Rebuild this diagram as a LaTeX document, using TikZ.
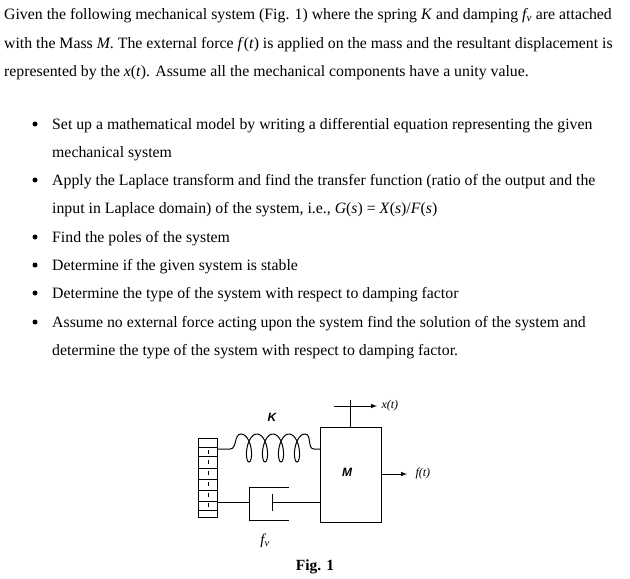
\documentclass[tikz,border=0pt]{standalone}
\usepackage{fontspec}
\setmainfont{Liberation Serif}
\newfontfamily\hel{Liberation Sans}
\begin{document}
\begin{tikzpicture}[x=1pt,y=-1pt,
  tx/.style={anchor=base west,inner sep=0pt,font=\fontsize{15.8}{18}\selectfont},
  bul/.style={circle,fill=black,inner sep=0pt,minimum size=5pt},
  ln/.style={line width=1pt}]
\useasboundingbox (0,0) rectangle (630,579);
\node[tx] (l1) at (4,19) {Given the following mechanical system (Fig. 1) where the spring \textit{K} and damping \textit{f\textsubscript{v}} are attached};
\node[tx] (l2) at (4,48) {with the Mass \textit{M}. The external force \textit{f}(\textit{t}) is applied on the mass and the resultant displacement is};
\node[tx] (l3) at (4,76) {represented by the \textit{x}(\textit{t}). Assume all the mechanical components have a unity value.};
\foreach \y/\n in {124/b1,180/b2,237/b3,265/b4,293/b5,322/b6}{\node[bul] (\n) at (35,\y) {};}
\node[tx] (t1) at (52,129) {Set up a mathematical model by writing a differential equation representing the given};
\node[tx] (t1b) at (52,157) {mechanical system};
\node[tx] (t2) at (52,185) {Apply the Laplace transform and find the transfer function (ratio of the output and the};
\node[tx] (t2b) at (52,213) {input in Laplace domain) of the system, i.e., \textit{G}(\textit{s}) = \textit{X}(\textit{s})/\textit{F}(\textit{s})};
\node[tx] (t3) at (52,242) {Find the poles of the system};
\node[tx] (t4) at (52,270) {Determine if the given system is stable};
\node[tx] (t5) at (52,298) {Determine the type of the system with respect to damping factor};
\node[tx] (t6) at (52,327) {Assume no external force acting upon the system find the solution of the system and};
\node[tx] (t6b) at (52,355) {determine the type of the system with respect to damping factor.};
% wall
\draw[ln] (198,438) rectangle (217,517);
\foreach \y in {447,456,468,479,490,501,510}{\draw[line width=0.6pt] (198,\y) -- (217,\y);}
\foreach \y in {452,462,473,484,495,505}{\draw[line width=0.4pt] (208,\y-2) -- (208,\y+2);}
% mass
\node[draw,ln,minimum width=61pt,minimum height=95pt,inner sep=0pt] (m) at (350.5,474.5) {};
\node[font=\hel\bfseries\itshape\fontsize{12}{14}\selectfont] (ml) at (347,472) {M};
% spring
\coordinate (s0) at (217,449);
\coordinate (s1) at (320,449);
\draw[ln] (s0) -- (230,449) to[out=0,in=180] (241,434)
  -- plot[domain=0:1440,samples=240,variable=\t] ({241+16*(\t/360)+6*sin(\t)},{448-14*cos(\t)})
  to[out=0,in=180] (314,449) -- (s1);
\node[font=\hel\bfseries\itshape\fontsize{12}{14}\selectfont] (K) at (272,417) {K};
% dashpot
\draw[ln] (217,502) -- (249,502);
\draw[ln] (289,487) -- (249,487) -- (249,520) -- (289,520);
\draw[ln] (272,494) -- (272,511);
\draw[ln] (272,502) -- (320,502);
\node[font=\itshape\fontsize{15}{16}\selectfont] (fv) at (265,541) {f\textsubscript{v}};
% x(t)
\draw[ln] (350,400) -- (m.north -| 350,0);
\coordinate (xa) at (334,406);
\coordinate (xb) at (377,406);
\draw[ln,-latex] (xa) -- (xb);
\node[anchor=west,font=\itshape\fontsize{12}{12}\selectfont] (xt) at (378,406) {x(t)};
\coordinate (fa) at (407,474);
\draw[ln,-latex] (m.east |- fa) -- (fa);
\node[anchor=west,font=\itshape\fontsize{12}{12}\selectfont] (ft) at (412,474) {f(t)};
\node[font=\bfseries\fontsize{15.5}{16}\selectfont] (fig) at (315,567) {Fig. 1};
\end{tikzpicture}
\end{document}
